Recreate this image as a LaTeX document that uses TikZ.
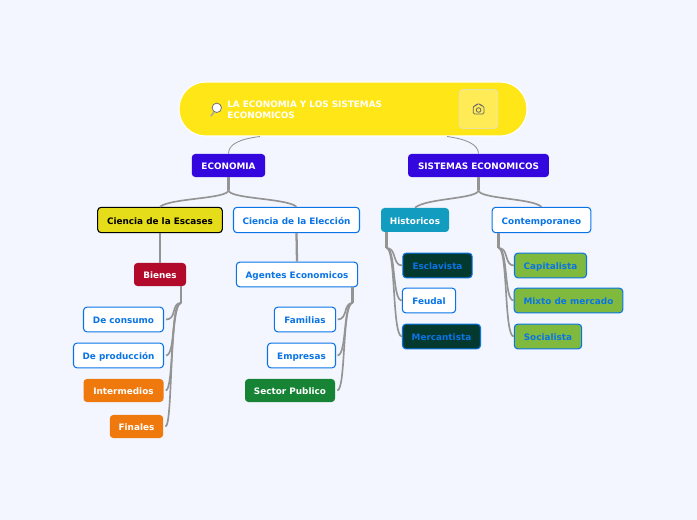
\documentclass[tikz,border=0pt]{standalone}
\usepackage{fontspec}
\setmainfont{DejaVu Sans}
\definecolor{pagecolor}{HTML}{F3F6FF}
\definecolor{rootyellow}{HTML}{FFE617}
\definecolor{photoyellow}{HTML}{FFEB55}
\definecolor{topicblue}{HTML}{3307DD}
\definecolor{lineblue}{HTML}{0A74E6}
\definecolor{wineRed}{HTML}{B10A2A}
\definecolor{orangefill}{HTML}{F0790E}
\definecolor{forest}{HTML}{178435}
\definecolor{tealfill}{HTML}{129CBF}
\definecolor{darkteal}{HTML}{03392F}
\definecolor{leafgreen}{HTML}{7FBA3F}
\definecolor{mustard}{HTML}{E5DC1A}
\colorlet{linkgray}{black!42}
\usetikzlibrary{
  calc,
}
\tikzset{
  box/.style={rounded corners=2.6pt, inner sep=0pt, text height=6.2pt, text depth=0pt,
    font=\fontsize{6.65}{8}\selectfont\bfseries},
  solidbox/.style={box, fill=#1, text=white},
  outlinebox/.style={box, fill=white, draw=lineblue, line width=0.8pt, text=lineblue},
  bluetextbox/.style={box, fill=#1, draw=lineblue, line width=0.8pt, text=lineblue},
  link/.style={linkgray, line width=1.25pt},
  thinlink/.style={linkgray, line width=0.65pt},
  trunk/.style={linkgray, line width=2.2pt},
}

\begin{document}
\begin{tikzpicture}[x=0.75pt, y=-0.75pt]
  \fill [pagecolor] (0,0) rectangle (697,520);
  \useasboundingbox (0,0) rectangle (697,520);

  % central topic
  \node [draw=white, fill=rootyellow, line width=0.8pt, rounded corners=20pt,
         minimum width=261pt, minimum height=40.5pt] at (353,109) (root) {};
  \node [font=\fontsize{6.65}{8.3}\selectfont\bfseries, text=white, align=left,
         anchor=west, inner sep=0pt] at (227,110) (title)
        {LA ECONOMIA Y LOS SISTEMAS\\ECONOMICOS};
  \node [draw=black!12, fill=photoyellow, rounded corners=2.5pt,
         minimum width=29pt, minimum height=29pt] at (478.5,109) (photo) {};
  \draw [black!60, line width=0.6pt, rounded corners=1pt]
        (473.3,106) -- (475.8,106) -- (476.6,104) -- (480.4,104) -- (481.2,106)
        -- (484,106) -- (484,114) -- (473.3,114) -- cycle;
  \draw [black!60, line width=0.6pt] (478.6,110) circle (2.3);
  \draw [black!35, line width=1.1pt, line cap=round] (211,116) -- (214.5,111.5);
  \draw [black!55, fill=white, line width=0.6pt] (216.8,107.8) circle (4.7);

  % first level
  \node [solidbox=topicblue, minimum width=55pt, minimum height=17.3pt] at (228.5,165.5) (economia) {ECONOMIA};
  \node [solidbox=topicblue, minimum width=105.7pt, minimum height=17.3pt] at (478.5,165.5) (sistemas) {SISTEMAS ECONOMICOS};

  % left side
  \node [box, fill=mustard, draw=black, line width=0.8pt, minimum width=93.5pt, minimum height=19pt] at (160,220) (escases) {Ciencia de la Escases};
  \node [outlinebox, minimum width=94.5pt, minimum height=19pt] at (296.5,220) (eleccion) {Ciencia de la Elección};
  \node [solidbox=wineRed, minimum width=39pt, minimum height=17.3pt] at (160,274.5) (bienes) {Bienes};
  \node [outlinebox, minimum width=91pt, minimum height=18.5pt] at (297,274.5) (agentes) {Agentes Economicos};
  \node [outlinebox, minimum width=60pt, minimum height=18.5pt] at (123.5,319.5) (consumo) {De consumo};
  \node [outlinebox, minimum width=67.5pt, minimum height=18.5pt] at (118.5,355.5) (produccion) {De producción};
  \node [solidbox=orangefill, minimum width=60pt, minimum height=17.3pt] at (123.5,390.5) (intermedios) {Intermedios};
  \node [solidbox=orangefill, minimum width=40pt, minimum height=17.3pt] at (136.5,426.5) (finales) {Finales};
  \node [outlinebox, minimum width=46pt, minimum height=18.5pt] at (305,319.5) (familias) {Familias};
  \node [outlinebox, minimum width=51pt, minimum height=18.5pt] at (301.5,355.5) (empresas) {Empresas};
  \node [solidbox=forest, minimum width=67.5pt, minimum height=17.3pt] at (290,390.5) (sector) {Sector Publico};

  % right side
  \node [solidbox=tealfill, minimum width=51pt, minimum height=18pt] at (415,220) (historicos) {Historicos};
  \node [outlinebox, minimum width=74pt, minimum height=19pt] at (541.5,220) (contemporaneo) {Contemporaneo};
  \node [bluetextbox=darkteal, minimum width=52pt, minimum height=18.5pt] at (437.5,265.5) (esclavista) {Esclavista};
  \node [outlinebox, minimum width=40pt, minimum height=18.5pt] at (429,300.5) (feudal) {Feudal};
  \node [bluetextbox=darkteal, minimum width=58.5pt, minimum height=18.5pt] at (441.5,336.5) (mercantista) {Mercantista};
  \node [bluetextbox=leafgreen, minimum width=54pt, minimum height=18.5pt] at (550.5,265.5) (capitalista) {Capitalista};
  \node [bluetextbox=leafgreen, minimum width=81.5pt, minimum height=18.5pt] at (568.5,300.5) (mixto) {Mixto de mercado};
  \node [bluetextbox=leafgreen, minimum width=50.5pt, minimum height=18.5pt] at (548,336.5) (socialista) {Socialista};

  % connectors
  \coordinate (rootleft) at (260,136.5);
  \coordinate (rootright) at (447,136.5);
  \draw [thinlink] (rootleft) .. controls (240,139) and (228.5,144) .. (economia.north);
  \draw [thinlink] (rootright) .. controls (465,139) and (478.5,144) .. (sistemas.north);

  \coordinate (ecofork) at (228.5,190);
  \draw [trunk] (economia.south) -- (ecofork);
  \draw [link] (ecofork) .. controls (229,199) and (170,198) .. (escases.north);
  \draw [link] (ecofork) .. controls (228,199) and (287,198) .. (eleccion.north);
  \draw [trunk, line width=1.7pt] (escases.south) -- (bienes.north);
  \draw [trunk, line width=1.7pt] (eleccion.south) -- (agentes.north);

  \coordinate (sisfork) at (478.5,190);
  \draw [trunk] (sistemas.south) -- (sisfork);
  \draw [link] (sisfork) .. controls (479,199) and (426,198) .. (historicos.north);
  \draw [link] (sisfork) .. controls (478,199) and (532,198) .. (contemporaneo.north);

  \coordinate (bienesfork) at (181,303);
  \draw [trunk] (181,286) -- (bienesfork);
  \draw [link] (bienesfork) .. controls (171,303) and (177,319.5) .. ($(consumo.east)+(2,0)$);
  \draw [link] (bienesfork) .. controls (171,303) and (176,355) .. ($(produccion.east)+(2,0)$);
  \draw [link] (bienesfork) .. controls (170,303) and (174,390) .. ($(intermedios.east)+(2,0)$);
  \draw [link] (bienesfork) .. controls (169,303) and (173,426) .. ($(finales.east)+(2,0)$);

  \coordinate (agentesfork) at (352.5,303);
  \draw [trunk] (352.5,287) -- (agentesfork);
  \draw [link] (agentesfork) .. controls (343,303) and (348,319.5) .. ($(familias.east)+(1.5,0)$);
  \draw [link] (agentesfork) .. controls (343,303) and (347,355) .. ($(empresas.east)+(1.5,0)$);
  \draw [link] (agentesfork) .. controls (342,303) and (346,390) .. ($(sector.east)+(2,0)$);

  \coordinate (histfork) at (386.5,248);
  \draw [trunk] (386.5,232) -- (histfork);
  \draw [link] (histfork) .. controls (397,248) and (392,265.5) .. (esclavista.west);
  \draw [link] (histfork) .. controls (396,248) and (392,300.5) .. (feudal.west);
  \draw [link] (histfork) .. controls (396,248) and (392,336.5) .. (mercantista.west);

  \coordinate (contfork) at (498.5,248);
  \draw [trunk] (498.5,233) -- (contfork);
  \draw [link] (contfork) .. controls (509,248) and (504,265.5) .. (capitalista.west);
  \draw [link] (contfork) .. controls (508,248) and (504,300.5) .. (mixto.west);
  \draw [link] (contfork) .. controls (508,248) and (504,336.5) .. (socialista.west);
\end{tikzpicture}
\end{document}
